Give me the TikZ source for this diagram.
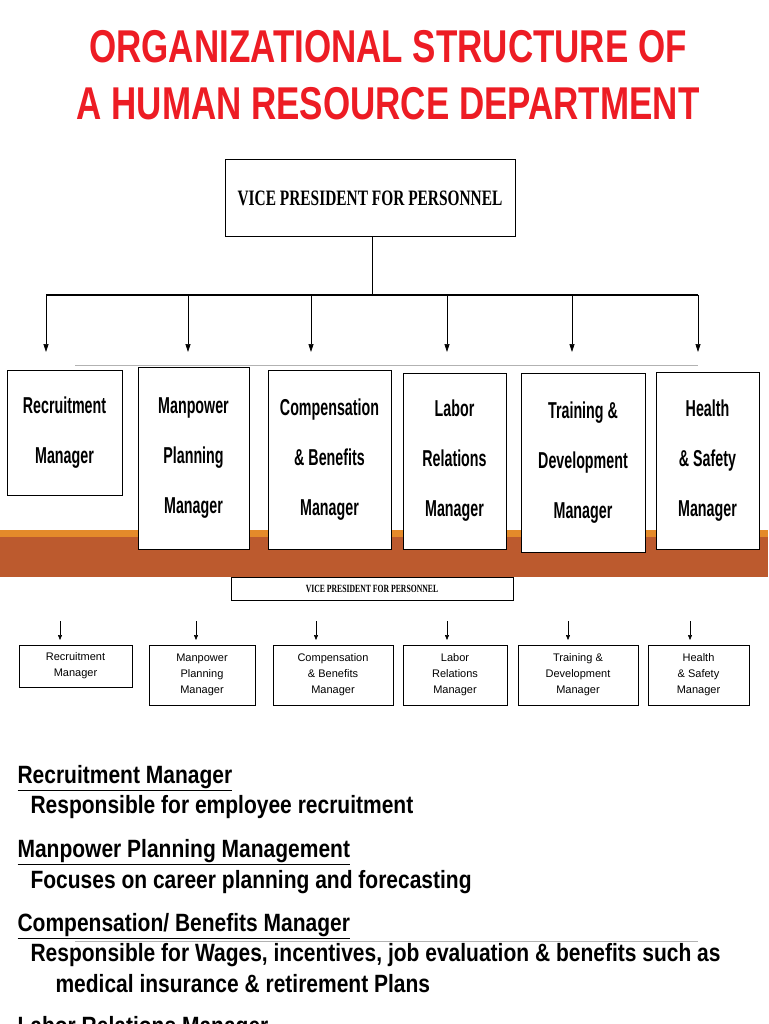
\documentclass[tikz,border=0pt]{standalone}
\usepackage{fontspec}
\setmainfont{Liberation Sans}
\newfontfamily\condt{Liberation Sans}[FakeStretch=0.62]
\newfontfamily\condb{Liberation Sans}[FakeStretch=0.84]
\newfontfamily\condh{Liberation Sans}[FakeStretch=0.76]
\newfontfamily\vpf{Liberation Serif}[FakeStretch=0.7]
\usetikzlibrary{arrows.meta}
\definecolor{tred}{RGB}{237,28,36}
\definecolor{band}{RGB}{188,90,46}
\definecolor{bandl}{RGB}{228,138,42}
\tikzset{
  big/.style={draw,line width=1pt,fill=white,align=center,font=\condt\bfseries\fontsize{23}{50}\selectfont,inner sep=0pt},
  small/.style={draw,line width=0.6pt,fill=white,align=center,font=\fontsize{11}{16}\selectfont,inner sep=0pt},
  arr/.style={-{Triangle[length=8pt,width=5pt]},line width=0.6pt},
  sarr/.style={-{Triangle[length=5pt,width=4pt]},line width=0.5pt},
  head/.style={anchor=base west,font=\condb\bfseries\fontsize{25}{28}\selectfont},
  body/.style={anchor=base west,font=\condb\bfseries\fontsize{25}{28}\selectfont}
}
\begin{document}
\begin{tikzpicture}[x=1pt,y=-1pt]
\useasboundingbox (0,0) rectangle (768,1024);
\fill[white] (0,0) rectangle (768,1024);
% title
\node[font=\condh\bfseries\fontsize{46}{57}\selectfont,text=tred,align=center] (title) at (388,75) {ORGANIZATIONAL STRUCTURE OF\\A HUMAN RESOURCE DEPARTMENT};
% band
\fill[bandl] (0,530) rectangle (768,537);
\fill[band] (0,537) rectangle (768,577);
% top
\node[draw,line width=1pt,minimum width=290,minimum height=76,font=\vpf\bfseries\fontsize{22}{24}\selectfont] (vp) at (370,198) {VICE PRESIDENT FOR PERSONNEL};
\coordinate (j) at (372,295);
\draw[line width=0.6pt] (vp.south -| j) -- (j);
\draw[line width=2.2pt] (46,295) -- (698,295);
\foreach \x/\n in {46/a,188/b,311/c,447/d,572/e,698/f}{
  \coordinate (t\n) at (\x,295);
  \coordinate (h\n) at (\x,352);
  \draw[arr] (t\n) -- (h\n);
}
\draw[gray!60,line width=0.6pt] (75,365) -- (698,365);
\node[big,minimum width=115,minimum height=125] (b1) at (64.5,432.5) {Recruitment\\Manager};
\node[big,minimum width=111,minimum height=182] (b2) at (193.5,458) {Manpower\\Planning\\Manager};
\node[big,minimum width=123,minimum height=179] (b3) at (329.5,459.5) {Compensation\\\& Benefits\\Manager};
\node[big,minimum width=103,minimum height=176] (b4) at (454.5,461) {Labor\\Relations\\Manager};
\node[big,minimum width=124,minimum height=179] (b5) at (583,462.5) {Training \&\\Development\\Manager};
\node[big,minimum width=103,minimum height=177] (b6) at (707.5,460.5) {Health\\\& Safety\\Manager};
% second chart
\node[draw,line width=0.6pt,fill=white,minimum width=282,minimum height=23,font=\vpf\bfseries\fontsize{11}{12}\selectfont] (vp2) at (372,589) {VICE PRESIDENT FOR PERSONNEL};
\node[small,minimum width=113,minimum height=42] (s1) at (75.5,666) {Recruitment\\Manager};
\node[small,minimum width=106,minimum height=60] (s2) at (202,675) {Manpower\\Planning\\Manager};
\node[small,minimum width=120,minimum height=60] (s3) at (333,675) {Compensation\\\& Benefits\\Manager};
\node[small,minimum width=104,minimum height=60] (s4) at (455,675) {Labor\\Relations\\Manager};
\node[small,minimum width=120,minimum height=60] (s5) at (578,675) {Training \&\\Development\\Manager};
\node[small,minimum width=101,minimum height=60] (s6) at (698.5,675) {Health\\\& Safety\\Manager};
\foreach \x/\n in {60/1,196/2,316/3,447/4,568/5,690/6}{
  \coordinate (u\n) at (\x,621);
  \draw[sarr] (u\n) -- (\x,640);
}
% text
\node[head] (h1) at (14,783) {\underline{Recruitment Manager}};
\node[body] (d1) at (27,813) {Responsible for employee recruitment};
\node[head] (h2) at (14,857) {\underline{Manpower Planning Management}};
\node[body] (d2) at (27,888) {Focuses on career planning and forecasting};
\node[head] (h3) at (14,931) {\underline{Compensation/ Benefits Manager}};
\draw[gray!60,line width=0.6pt] (75,941) -- (698,941);
\node[body] (d3) at (27,961) {Responsible for Wages, incentives, job evaluation \& benefits such as};
\node[body] (d4) at (52,992) {medical insurance \& retirement Plans};
\node[head] (h4) at (14,1034) {\underline{Labor Relations Manager}};
\end{tikzpicture}
\end{document}
